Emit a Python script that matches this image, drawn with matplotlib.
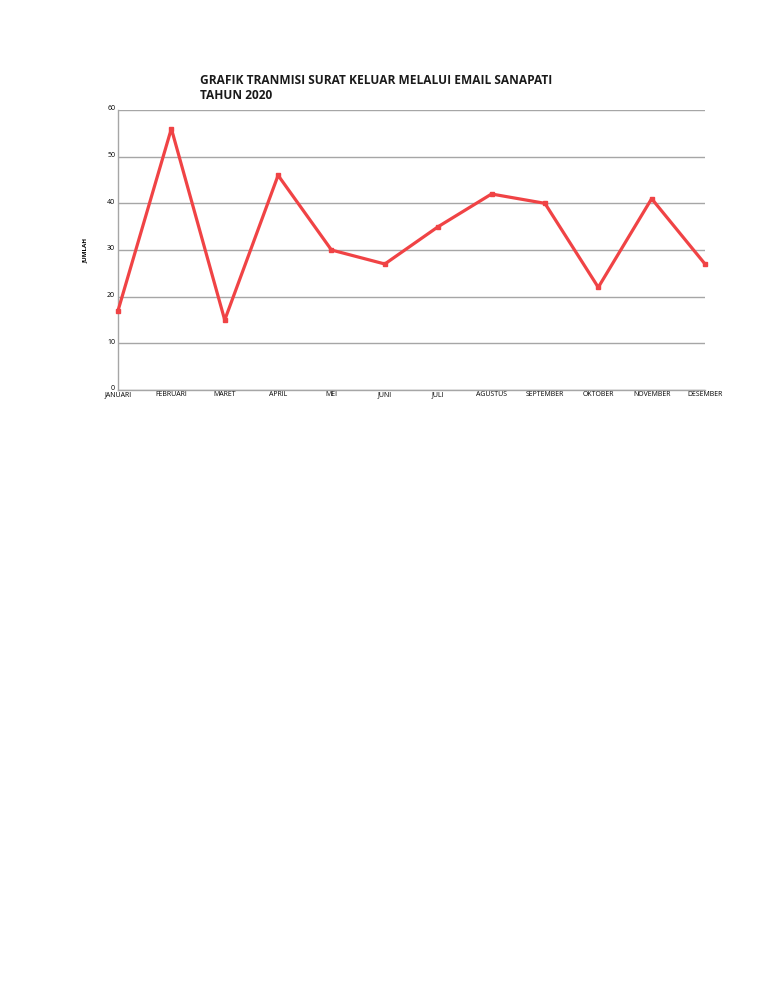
import matplotlib
matplotlib.use("Agg")
import matplotlib.pyplot as plt
from matplotlib.transforms import ScaledTranslation

months = ["JANUARI", "FEBRUARI", "MARET", "APRIL", "MEI", "JUNI", "JULI",
          "AGUSTUS", "SEPTEMBER", "OKTOBER", "NOVEMBER", "DESEMBER"]
values = [17, 56, 15, 46, 30, 27, 35, 42, 40, 22, 41, 27]
yticks = [0, 10, 20, 30, 40, 50, 60]

plt.rcParams['font.family'] = ['Open Sans', 'DejaVu Sans']

fig = plt.figure(figsize=(7.68, 10.02), dpi=100)
ax = fig.add_axes([118/768, 1 - 390/1002, 587/768, 280/1002])

x = list(range(len(months)))
ax.plot(x, values, color='#F04345', linewidth=2.3, marker='s', markersize=3.5,
        zorder=3, clip_on=False)

ax.set_xlim(0, len(months) - 1)
ax.set_ylim(0, 60)
ax.set_yticks(yticks)
ax.set_yticklabels([str(v) for v in yticks])
ax.set_xticks(x)
ax.set_xticklabels(months)
ax.tick_params(axis='both', length=0, labelsize=5, pad=1)
ax.tick_params(axis='y', pad=2)
off = ScaledTranslation(0, 1.5/72, fig.dpi_scale_trans)
for lab in ax.get_yticklabels():
    lab.set_transform(lab.get_transform() + off)
ax.grid(axis='y', color='#A6A6A6', linewidth=1)
ax.set_axisbelow(True)
for s in ['top', 'right']:
    ax.spines[s].set_visible(False)
for s in ['left', 'bottom']:
    ax.spines[s].set_color('#A6A6A6')
    ax.spines[s].set_linewidth(1)

ax.set_ylabel("JUMLAH", fontsize=4.5, fontweight='bold', labelpad=14)

fig.text(200/768, 1 - 88/1002, "GRAFIK TRANMISI SURAT KELUAR MELALUI EMAIL SANAPATI\nTAHUN 2020",
         fontsize=8.6, fontweight='bold', ha='left', va='center', linespacing=1.25,
         color='#1a1a1a')

fig.savefig("out.png", dpi=100, facecolor='white')
